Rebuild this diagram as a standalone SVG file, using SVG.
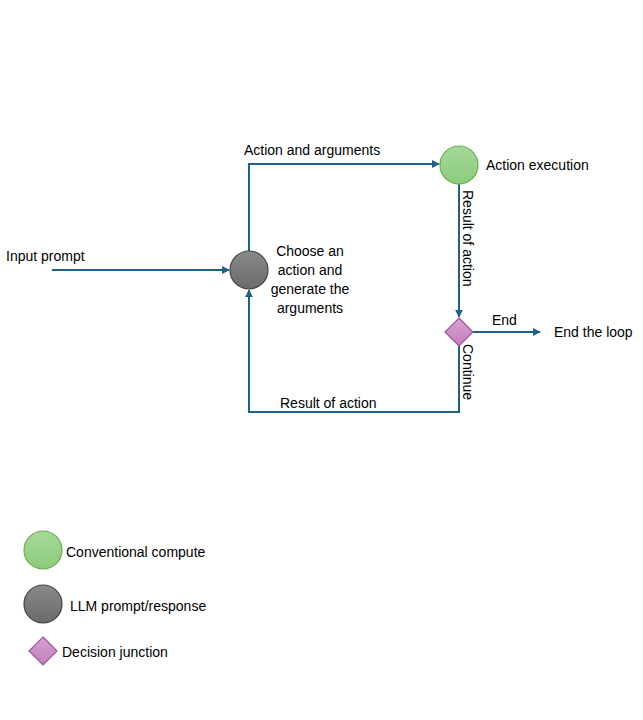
<svg xmlns="http://www.w3.org/2000/svg" width="643" height="720" viewBox="0 0 643 720">
<style>
text{font-family:"Liberation Sans",Arial,sans-serif;font-size:14px;fill:#000}
.c{fill:none;stroke:#1f6088;stroke-width:2}
.g{fill:url(#gr);stroke:#6ab04c;stroke-width:1.2}
.k{fill:url(#gk);stroke:#444;stroke-width:1.2}
.d{fill:url(#dp);stroke:#a052a0;stroke-width:1.2}
</style>
<defs>
<linearGradient id="gr" x1="0" y1="0" x2="0" y2="1"><stop offset="0" stop-color="#a6d99a"/><stop offset="1" stop-color="#8ccb7c"/></linearGradient>
<linearGradient id="gk" x1="0" y1="0" x2="0" y2="1"><stop offset="0" stop-color="#8a8a8a"/><stop offset="1" stop-color="#6a6a6a"/></linearGradient>
<linearGradient id="dp" x1="0" y1="0" x2="0" y2="1"><stop offset="0" stop-color="#d9a0d2"/><stop offset="1" stop-color="#c080b8"/></linearGradient>
<marker id="a" viewBox="0 0 10 10" refX="9" refY="5" markerWidth="4" markerHeight="4" orient="auto"><path d="M0,0L10,5L0,10z" fill="#1f6088"/></marker>
</defs>
<g id="connectors">
<path class="c" d="M52,270H229" marker-end="url(#a)"/>
<path class="c" d="M249,251V164H439" marker-end="url(#a)"/>
<path class="c" d="M459,184V317" marker-end="url(#a)"/>
<path class="c" d="M473,332H540" marker-end="url(#a)"/>
<path class="c" d="M459,346V412H249V290" marker-end="url(#a)"/>
<text x="6" y="261">Input prompt</text>
<text x="244" y="155">Action and arguments</text>
<text x="492" y="325">End</text>
<text x="280" y="408">Result of action</text>
<text transform="translate(463,190) rotate(90)">Result of action</text>
<text transform="translate(463,344) rotate(90)">Continue</text>
</g>
<g id="llm"><circle class="k" cx="249" cy="270" r="19"/>
<text x="310" y="256" text-anchor="middle">Choose an</text>
<text x="310" y="275" text-anchor="middle">action and</text>
<text x="310" y="294" text-anchor="middle">generate the</text>
<text x="310" y="313" text-anchor="middle">arguments</text></g>
<g id="exec"><circle class="g" cx="459" cy="165" r="19"/><text x="486" y="170">Action execution</text></g>
<g id="decision"><path class="d" d="M459,318L473,332L459,346L445,332z"/></g>
<g id="end"><text x="554" y="337">End the loop</text></g>
<g id="legend">
<circle class="g" cx="43" cy="550" r="19"/><text x="66" y="557">Conventional compute</text>
<circle class="k" cx="43" cy="604" r="19"/><text x="70" y="611">LLM prompt/response</text>
<path class="d" d="M43,637L57,651L43,665L29,651z"/><text x="62" y="657">Decision junction</text>
</g>
</svg>
